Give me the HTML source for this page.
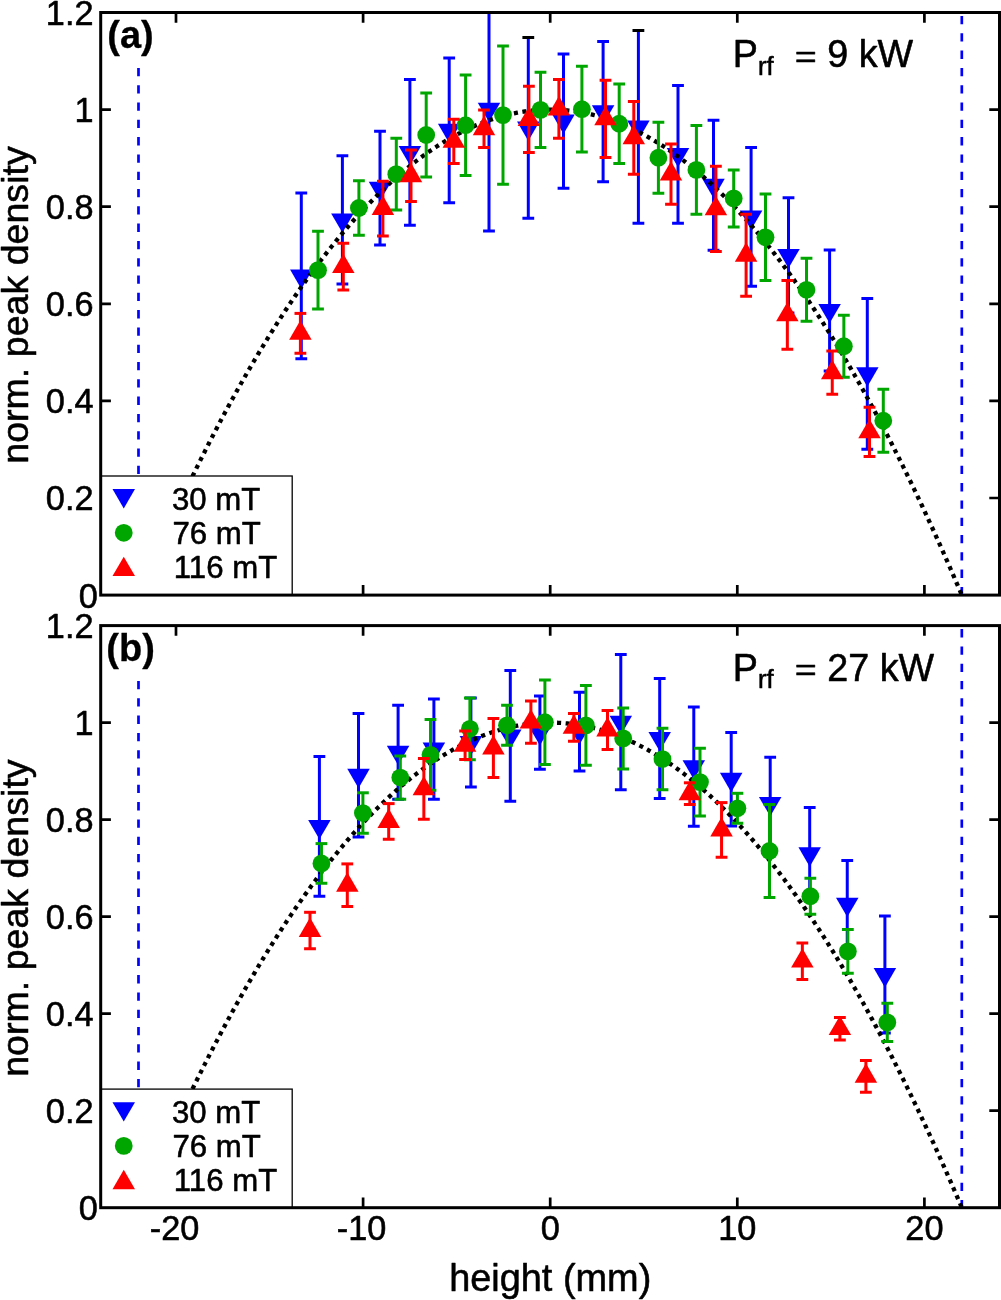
<!DOCTYPE html>
<html lang="en"><head><meta charset="utf-8"><title>Normalized peak density profiles</title>
<style>html,body{margin:0;padding:0;background:#fff}svg{display:block}</style>
</head><body>
<svg width="1001" height="1300" viewBox="0 0 1001 1300" font-family="'Liberation Sans', sans-serif" fill="#000">
<style>text{stroke:#000;stroke-width:0.55px;stroke-linejoin:round}</style>
<defs>
<clipPath id="clip0"><rect x="100.7" y="12.5" width="898.80" height="582.60"/></clipPath>
<clipPath id="clip1"><rect x="100.7" y="625.6" width="898.80" height="582.10"/></clipPath>
</defs>
<rect width="1001" height="1300" fill="#fff"/>
<g clip-path="url(#clip0)">
<path d="M138.5 -1.30V595.1" stroke="#0000ff" stroke-width="2.7" stroke-dasharray="8.3 9" fill="none"/>
<path d="M961.8 -1.30V595.1" stroke="#0000ff" stroke-width="2.7" stroke-dasharray="8.3 9" fill="none"/>
<rect x="100.7" y="12.5" width="62" height="50.5" fill="#fff"/>
<path d="M301.30 193.10V358.80M295.40 358.80H307.20" stroke="#0000ff" stroke-width="3.0" fill="none"/>
<path d="M295.40 193.10H307.20" stroke="#0000ff" stroke-width="3.0" fill="none"/>
<path d="M342.40 155.80V283.90M336.50 283.90H348.30" stroke="#0000ff" stroke-width="3.0" fill="none"/>
<path d="M336.50 155.80H348.30" stroke="#0000ff" stroke-width="3.0" fill="none"/>
<path d="M380.00 131.30V244.90M374.10 244.90H385.90" stroke="#0000ff" stroke-width="3.0" fill="none"/>
<path d="M374.10 131.30H385.90" stroke="#0000ff" stroke-width="3.0" fill="none"/>
<path d="M409.90 79.50V225.30M404.00 225.30H415.80" stroke="#0000ff" stroke-width="3.0" fill="none"/>
<path d="M404.00 79.50H415.80" stroke="#0000ff" stroke-width="3.0" fill="none"/>
<path d="M449.20 57.90V202.70M443.30 202.70H455.10" stroke="#0000ff" stroke-width="3.0" fill="none"/>
<path d="M443.30 57.90H455.10" stroke="#0000ff" stroke-width="3.0" fill="none"/>
<path d="M489.00 -12.70V230.90M483.10 230.90H494.90" stroke="#0000ff" stroke-width="3.0" fill="none"/>
<path d="M483.10 -12.70H494.90" stroke="#0000ff" stroke-width="3.0" fill="none"/>
<path d="M528.30 37.60V218.30M522.40 218.30H534.20" stroke="#0000ff" stroke-width="3.0" fill="none"/>
<path d="M522.40 37.60H534.20" stroke="#000" stroke-width="3.0" fill="none"/>
<path d="M563.50 53.90V188.25M557.60 188.25H569.40" stroke="#0000ff" stroke-width="3.0" fill="none"/>
<path d="M557.60 53.90H569.40" stroke="#0000ff" stroke-width="3.0" fill="none"/>
<path d="M603.10 41.40V181.85M597.20 181.85H609.00" stroke="#0000ff" stroke-width="3.0" fill="none"/>
<path d="M597.20 41.40H609.00" stroke="#0000ff" stroke-width="3.0" fill="none"/>
<path d="M638.40 30.40V223.30M632.50 223.30H644.30" stroke="#0000ff" stroke-width="3.0" fill="none"/>
<path d="M632.50 30.40H644.30" stroke="#000" stroke-width="3.0" fill="none"/>
<path d="M678.00 85.50V223.30M672.10 223.30H683.90" stroke="#0000ff" stroke-width="3.0" fill="none"/>
<path d="M672.10 85.50H683.90" stroke="#0000ff" stroke-width="3.0" fill="none"/>
<path d="M713.50 120.30V250.30M707.60 250.30H719.40" stroke="#0000ff" stroke-width="3.0" fill="none"/>
<path d="M707.60 120.30H719.40" stroke="#0000ff" stroke-width="3.0" fill="none"/>
<path d="M751.10 147.50V286.30M745.20 286.30H757.00" stroke="#0000ff" stroke-width="3.0" fill="none"/>
<path d="M745.20 147.50H757.00" stroke="#0000ff" stroke-width="3.0" fill="none"/>
<path d="M788.50 197.70V313.00M782.60 313.00H794.40" stroke="#0000ff" stroke-width="3.0" fill="none"/>
<path d="M782.60 197.70H794.40" stroke="#0000ff" stroke-width="3.0" fill="none"/>
<path d="M829.60 249.90V370.90M823.70 370.90H835.50" stroke="#0000ff" stroke-width="3.0" fill="none"/>
<path d="M823.70 249.90H835.50" stroke="#0000ff" stroke-width="3.0" fill="none"/>
<path d="M867.30 298.40V449.20M861.40 449.20H873.20" stroke="#0000ff" stroke-width="3.0" fill="none"/>
<path d="M861.40 298.40H873.20" stroke="#0000ff" stroke-width="3.0" fill="none"/>
<path d="M290.05 269.48H312.55L301.30 288.88Z" fill="#0000ff"/>
<path d="M331.15 213.38H353.65L342.40 232.78Z" fill="#0000ff"/>
<path d="M368.75 181.63H391.25L380.00 201.03Z" fill="#0000ff"/>
<path d="M398.65 145.93H421.15L409.90 165.33Z" fill="#0000ff"/>
<path d="M437.95 123.83H460.45L449.20 143.23Z" fill="#0000ff"/>
<path d="M477.75 102.63H500.25L489.00 122.03Z" fill="#0000ff"/>
<path d="M517.05 121.48H539.55L528.30 140.88Z" fill="#0000ff"/>
<path d="M552.25 114.61H574.75L563.50 134.00Z" fill="#0000ff"/>
<path d="M591.85 105.16H614.35L603.10 124.56Z" fill="#0000ff"/>
<path d="M627.15 120.38H649.65L638.40 139.78Z" fill="#0000ff"/>
<path d="M666.75 147.93H689.25L678.00 167.33Z" fill="#0000ff"/>
<path d="M702.25 178.83H724.75L713.50 198.23Z" fill="#0000ff"/>
<path d="M739.85 210.43H762.35L751.10 229.83Z" fill="#0000ff"/>
<path d="M777.25 248.88H799.75L788.50 268.28Z" fill="#0000ff"/>
<path d="M818.35 303.93H840.85L829.60 323.33Z" fill="#0000ff"/>
<path d="M856.05 367.33H878.55L867.30 386.73Z" fill="#0000ff"/>
<path d="M138.58 595.10L139.61 592.68L140.64 590.26L141.67 587.84L142.70 585.44L143.73 583.04L144.75 580.64L145.78 578.26L146.81 575.87L147.84 573.50L148.87 571.13L149.90 568.76L150.93 566.41L151.96 564.06L152.99 561.71L154.02 559.37L155.04 557.04L156.07 554.71L157.10 552.39L158.13 550.07L159.16 547.76L160.19 545.46L161.22 543.16L162.25 540.87L163.28 538.59L164.31 536.31L165.34 534.04L166.36 531.77L167.39 529.51L168.42 527.25L169.45 525.01L170.48 522.76L171.51 520.53L172.54 518.30L173.57 516.07L174.60 513.85L175.63 511.64L176.65 509.44L177.68 507.24L178.71 505.04L179.74 502.86L180.77 500.67L181.80 498.50L182.83 496.33L183.86 494.16L184.89 492.01L185.92 489.86L186.95 487.71L187.97 485.57L189.00 483.44L190.03 481.31L191.06 479.19L192.09 477.07L193.12 474.97L194.15 472.86L195.18 470.77L196.21 468.68L197.24 466.59L198.26 464.51L199.29 462.44L200.32 460.37L201.35 458.31L202.38 456.26L203.41 454.21L204.44 452.17L205.47 450.13L206.50 448.10L207.53 446.08L208.56 444.06L209.58 442.05L210.61 440.04L211.64 438.04L212.67 436.05L213.70 434.06L214.73 432.08L215.76 430.11L216.79 428.14L217.82 426.17L218.85 424.22L219.87 422.27L220.90 420.32L221.93 418.38L222.96 416.45L223.99 414.52L225.02 412.60L226.05 410.69L227.08 408.78L228.11 406.87L229.14 404.98L230.17 403.09L231.19 401.20L232.22 399.33L233.25 397.45L234.28 395.59L235.31 393.73L236.34 391.87L237.37 390.02L238.40 388.18L239.43 386.35L240.46 384.52L241.49 382.69L242.51 380.88L243.54 379.06L244.57 377.26L245.60 375.46L246.63 373.67L247.66 371.88L248.69 370.10L249.72 368.32L250.75 366.55L251.78 364.79L252.80 363.03L253.83 361.28L254.86 359.54L255.89 357.80L256.92 356.07L257.95 354.34L258.98 352.62L260.01 350.91L261.04 349.20L262.07 347.50L263.10 345.80L264.12 344.11L265.15 342.42L266.18 340.75L267.21 339.07L268.24 337.41L269.27 335.75L270.30 334.10L271.33 332.45L272.36 330.81L273.39 329.17L274.41 327.54L275.44 325.92L276.47 324.30L277.50 322.69L278.53 321.08L279.56 319.48L280.59 317.89L281.62 316.30L282.65 314.72L283.68 313.15L284.71 311.58L285.73 310.02L286.76 308.46L287.79 306.91L288.82 305.37L289.85 303.83L290.88 302.29L291.91 300.77L292.94 299.25L293.97 297.73L295.00 296.23L296.02 294.72L297.05 293.23L298.08 291.74L299.11 290.25L300.14 288.78L301.17 287.31L302.20 285.84L303.23 284.38L304.26 282.93L305.29 281.48L306.32 280.04L307.34 278.60L308.37 277.17L309.40 275.75L310.43 274.33L311.46 272.92L312.49 271.52L313.52 270.12L314.55 268.73L315.58 267.34L316.61 265.96L317.63 264.58L318.66 263.22L319.69 261.85L320.72 260.50L321.75 259.15L322.78 257.80L323.81 256.46L324.84 255.13L325.87 253.81L326.90 252.49L327.93 251.17L328.95 249.86L329.98 248.56L331.01 247.27L332.04 245.98L333.07 244.69L334.10 243.42L335.13 242.14L336.16 240.88L337.19 239.62L338.22 238.37L339.24 237.12L340.27 235.88L341.30 234.64L342.33 233.41L343.36 232.19L344.39 230.97L345.42 229.76L346.45 228.56L347.48 227.36L348.51 226.17L349.54 224.98L350.56 223.80L351.59 222.63L352.62 221.46L353.65 220.30L354.68 219.14L355.71 217.99L356.74 216.85L357.77 215.71L358.80 214.58L359.83 213.45L360.85 212.33L361.88 211.22L362.91 210.11L363.94 209.01L364.97 207.91L366.00 206.82L367.03 205.74L368.06 204.66L369.09 203.59L370.12 202.53L371.15 201.47L372.17 200.42L373.20 199.37L374.23 198.33L375.26 197.29L376.29 196.26L377.32 195.24L378.35 194.23L379.38 193.22L380.41 192.21L381.44 191.21L382.46 190.22L383.49 189.23L384.52 188.25L385.55 187.28L386.58 186.31L387.61 185.35L388.64 184.39L389.67 183.44L390.70 182.50L391.73 181.56L392.76 180.63L393.78 179.71L394.81 178.79L395.84 177.87L396.87 176.97L397.90 176.06L398.93 175.17L399.96 174.28L400.99 173.40L402.02 172.52L403.05 171.65L404.07 170.79L405.10 169.93L406.13 169.07L407.16 168.23L408.19 167.39L409.22 166.55L410.25 165.72L411.28 164.90L412.31 164.09L413.34 163.28L414.37 162.47L415.39 161.67L416.42 160.88L417.45 160.10L418.48 159.32L419.51 158.54L420.54 157.77L421.57 157.01L422.60 156.26L423.63 155.51L424.66 154.76L425.68 154.03L426.71 153.29L427.74 152.57L428.77 151.85L429.80 151.14L430.83 150.43L431.86 149.73L432.89 149.03L433.92 148.35L434.95 147.66L435.98 146.99L437.00 146.32L438.03 145.65L439.06 144.99L440.09 144.34L441.12 143.69L442.15 143.05L443.18 142.42L444.21 141.79L445.24 141.17L446.27 140.55L447.30 139.94L448.32 139.34L449.35 138.74L450.38 138.15L451.41 137.56L452.44 136.99L453.47 136.41L454.50 135.84L455.53 135.28L456.56 134.73L457.59 134.18L458.61 133.64L459.64 133.10L460.67 132.57L461.70 132.04L462.73 131.52L463.76 131.01L464.79 130.50L465.82 130.00L466.85 129.51L467.88 129.02L468.91 128.54L469.93 128.06L470.96 127.59L471.99 127.13L473.02 126.67L474.05 126.22L475.08 125.77L476.11 125.33L477.14 124.90L478.17 124.47L479.20 124.05L480.22 123.63L481.25 123.22L482.28 122.82L483.31 122.42L484.34 122.03L485.37 121.64L486.40 121.26L487.43 120.89L488.46 120.52L489.49 120.16L490.52 119.81L491.54 119.46L492.57 119.12L493.60 118.78L494.63 118.45L495.66 118.12L496.69 117.80L497.72 117.49L498.75 117.19L499.78 116.89L500.81 116.59L501.83 116.30L502.86 116.02L503.89 115.74L504.92 115.47L505.95 115.21L506.98 114.95L508.01 114.70L509.04 114.45L510.07 114.22L511.10 113.98L512.13 113.75L513.15 113.53L514.18 113.32L515.21 113.11L516.24 112.90L517.27 112.71L518.30 112.52L519.33 112.33L520.36 112.15L521.39 111.98L522.42 111.81L523.44 111.65L524.47 111.50L525.50 111.35L526.53 111.21L527.56 111.07L528.59 110.94L529.62 110.81L530.65 110.70L531.68 110.58L532.71 110.48L533.74 110.38L534.76 110.28L535.79 110.19L536.82 110.11L537.85 110.04L538.88 109.97L539.91 109.90L540.94 109.85L541.97 109.79L543.00 109.75L544.03 109.71L545.05 109.68L546.08 109.65L547.11 109.63L548.14 109.61L549.17 109.60L550.20 109.60L551.23 109.60L552.26 109.61L553.29 109.63L554.32 109.65L555.35 109.68L556.37 109.71L557.40 109.75L558.43 109.79L559.46 109.85L560.49 109.90L561.52 109.97L562.55 110.04L563.58 110.11L564.61 110.19L565.64 110.28L566.66 110.38L567.69 110.48L568.72 110.58L569.75 110.70L570.78 110.81L571.81 110.94L572.84 111.07L573.87 111.21L574.90 111.35L575.93 111.50L576.96 111.65L577.98 111.81L579.01 111.98L580.04 112.15L581.07 112.33L582.10 112.52L583.13 112.71L584.16 112.90L585.19 113.11L586.22 113.32L587.25 113.53L588.27 113.75L589.30 113.98L590.33 114.22L591.36 114.45L592.39 114.70L593.42 114.95L594.45 115.21L595.48 115.47L596.51 115.74L597.54 116.02L598.57 116.30L599.59 116.59L600.62 116.89L601.65 117.19L602.68 117.49L603.71 117.80L604.74 118.12L605.77 118.45L606.80 118.78L607.83 119.12L608.86 119.46L609.88 119.81L610.91 120.16L611.94 120.52L612.97 120.89L614.00 121.26L615.03 121.64L616.06 122.03L617.09 122.42L618.12 122.82L619.15 123.22L620.18 123.63L621.20 124.05L622.23 124.47L623.26 124.90L624.29 125.33L625.32 125.77L626.35 126.22L627.38 126.67L628.41 127.13L629.44 127.59L630.47 128.06L631.49 128.54L632.52 129.02L633.55 129.51L634.58 130.00L635.61 130.50L636.64 131.01L637.67 131.52L638.70 132.04L639.73 132.57L640.76 133.10L641.79 133.64L642.81 134.18L643.84 134.73L644.87 135.28L645.90 135.84L646.93 136.41L647.96 136.99L648.99 137.56L650.02 138.15L651.05 138.74L652.08 139.34L653.11 139.94L654.13 140.55L655.16 141.17L656.19 141.79L657.22 142.42L658.25 143.05L659.28 143.69L660.31 144.34L661.34 144.99L662.37 145.65L663.40 146.32L664.42 146.99L665.45 147.66L666.48 148.35L667.51 149.03L668.54 149.73L669.57 150.43L670.60 151.14L671.63 151.85L672.66 152.57L673.69 153.30L674.72 154.03L675.74 154.76L676.77 155.51L677.80 156.26L678.83 157.01L679.86 157.77L680.89 158.54L681.92 159.32L682.95 160.10L683.98 160.88L685.01 161.67L686.03 162.47L687.06 163.28L688.09 164.09L689.12 164.90L690.15 165.72L691.18 166.55L692.21 167.39L693.24 168.23L694.27 169.07L695.30 169.93L696.33 170.79L697.35 171.65L698.38 172.52L699.41 173.40L700.44 174.28L701.47 175.17L702.50 176.06L703.53 176.97L704.56 177.87L705.59 178.79L706.62 179.71L707.64 180.63L708.67 181.56L709.70 182.50L710.73 183.44L711.76 184.39L712.79 185.35L713.82 186.31L714.85 187.28L715.88 188.25L716.91 189.23L717.94 190.22L718.96 191.21L719.99 192.21L721.02 193.22L722.05 194.23L723.08 195.24L724.11 196.26L725.14 197.29L726.17 198.33L727.20 199.37L728.23 200.42L729.25 201.47L730.28 202.53L731.31 203.59L732.34 204.66L733.37 205.74L734.40 206.82L735.43 207.91L736.46 209.01L737.49 210.11L738.52 211.22L739.55 212.33L740.57 213.45L741.60 214.58L742.63 215.71L743.66 216.85L744.69 217.99L745.72 219.14L746.75 220.30L747.78 221.46L748.81 222.63L749.84 223.80L750.86 224.98L751.89 226.17L752.92 227.36L753.95 228.56L754.98 229.76L756.01 230.97L757.04 232.19L758.07 233.41L759.10 234.64L760.13 235.88L761.16 237.12L762.18 238.37L763.21 239.62L764.24 240.88L765.27 242.14L766.30 243.42L767.33 244.69L768.36 245.98L769.39 247.27L770.42 248.56L771.45 249.86L772.47 251.17L773.50 252.49L774.53 253.81L775.56 255.13L776.59 256.46L777.62 257.80L778.65 259.15L779.68 260.50L780.71 261.85L781.74 263.22L782.77 264.58L783.79 265.96L784.82 267.34L785.85 268.73L786.88 270.12L787.91 271.52L788.94 272.92L789.97 274.33L791.00 275.75L792.03 277.17L793.06 278.60L794.08 280.04L795.11 281.48L796.14 282.93L797.17 284.38L798.20 285.84L799.23 287.31L800.26 288.78L801.29 290.25L802.32 291.74L803.35 293.23L804.38 294.72L805.40 296.23L806.43 297.73L807.46 299.25L808.49 300.77L809.52 302.29L810.55 303.83L811.58 305.37L812.61 306.91L813.64 308.46L814.67 310.02L815.69 311.58L816.72 313.15L817.75 314.72L818.78 316.30L819.81 317.89L820.84 319.48L821.87 321.08L822.90 322.69L823.93 324.30L824.96 325.92L825.99 327.54L827.01 329.17L828.04 330.81L829.07 332.45L830.10 334.10L831.13 335.75L832.16 337.41L833.19 339.07L834.22 340.75L835.25 342.42L836.28 344.11L837.30 345.80L838.33 347.50L839.36 349.20L840.39 350.91L841.42 352.62L842.45 354.34L843.48 356.07L844.51 357.80L845.54 359.54L846.57 361.28L847.60 363.03L848.62 364.79L849.65 366.55L850.68 368.32L851.71 370.10L852.74 371.88L853.77 373.67L854.80 375.46L855.83 377.26L856.86 379.06L857.89 380.88L858.92 382.69L859.94 384.52L860.97 386.35L862.00 388.18L863.03 390.02L864.06 391.87L865.09 393.73L866.12 395.59L867.15 397.45L868.18 399.33L869.21 401.20L870.23 403.09L871.26 404.98L872.29 406.87L873.32 408.78L874.35 410.69L875.38 412.60L876.41 414.52L877.44 416.45L878.47 418.38L879.50 420.32L880.53 422.27L881.55 424.22L882.58 426.17L883.61 428.14L884.64 430.11L885.67 432.08L886.70 434.06L887.73 436.05L888.76 438.04L889.79 440.04L890.82 442.05L891.84 444.06L892.87 446.08L893.90 448.10L894.93 450.13L895.96 452.17L896.99 454.21L898.02 456.26L899.05 458.31L900.08 460.37L901.11 462.44L902.14 464.51L903.16 466.59L904.19 468.68L905.22 470.77L906.25 472.86L907.28 474.97L908.31 477.07L909.34 479.19L910.37 481.31L911.40 483.44L912.43 485.57L913.45 487.71L914.48 489.86L915.51 492.01L916.54 494.16L917.57 496.33L918.60 498.50L919.63 500.67L920.66 502.85L921.69 505.04L922.72 507.24L923.75 509.44L924.77 511.64L925.80 513.85L926.83 516.07L927.86 518.30L928.89 520.53L929.92 522.76L930.95 525.01L931.98 527.25L933.01 529.51L934.04 531.77L935.06 534.04L936.09 536.31L937.12 538.59L938.15 540.87L939.18 543.16L940.21 545.46L941.24 547.76L942.27 550.07L943.30 552.39L944.33 554.71L945.36 557.04L946.38 559.37L947.41 561.71L948.44 564.06L949.47 566.41L950.50 568.76L951.53 571.13L952.56 573.50L953.59 575.87L954.62 578.26L955.65 580.64L956.67 583.04L957.70 585.44L958.73 587.84L959.76 590.26L960.79 592.68L961.82 595.10" stroke="#000" stroke-width="4.3" stroke-dasharray="4.1 4.51" stroke-dashoffset="7.34" fill="none"/>
<path d="M318.00 231.30V309.00M312.10 309.00H323.90" stroke="#00a600" stroke-width="3.0" fill="none"/>
<path d="M312.10 231.30H323.90" stroke="#00a600" stroke-width="3.0" fill="none"/>
<path d="M358.90 180.70V235.30M353.00 235.30H364.80" stroke="#00a600" stroke-width="3.0" fill="none"/>
<path d="M353.00 180.70H364.80" stroke="#00a600" stroke-width="3.0" fill="none"/>
<path d="M396.30 138.30V210.00M390.40 210.00H402.20" stroke="#00a600" stroke-width="3.0" fill="none"/>
<path d="M390.40 138.30H402.20" stroke="#00a600" stroke-width="3.0" fill="none"/>
<path d="M426.20 92.90V177.10M420.30 177.10H432.10" stroke="#00a600" stroke-width="3.0" fill="none"/>
<path d="M420.30 92.90H432.10" stroke="#00a600" stroke-width="3.0" fill="none"/>
<path d="M465.60 74.90V175.50M459.70 175.50H471.50" stroke="#00a600" stroke-width="3.0" fill="none"/>
<path d="M459.70 74.90H471.50" stroke="#00a600" stroke-width="3.0" fill="none"/>
<path d="M503.00 46.00V184.25M497.10 184.25H508.90" stroke="#00a600" stroke-width="3.0" fill="none"/>
<path d="M497.10 46.00H508.90" stroke="#00a600" stroke-width="3.0" fill="none"/>
<path d="M540.50 72.30V147.45M534.60 147.45H546.40" stroke="#00a600" stroke-width="3.0" fill="none"/>
<path d="M534.60 72.30H546.40" stroke="#00a600" stroke-width="3.0" fill="none"/>
<path d="M581.90 66.30V152.10M576.00 152.10H587.80" stroke="#00a600" stroke-width="3.0" fill="none"/>
<path d="M576.00 66.30H587.80" stroke="#00a600" stroke-width="3.0" fill="none"/>
<path d="M619.20 83.90V163.60M613.30 163.60H625.10" stroke="#00a600" stroke-width="3.0" fill="none"/>
<path d="M613.30 83.90H625.10" stroke="#00a600" stroke-width="3.0" fill="none"/>
<path d="M658.40 122.20V193.30M652.50 193.30H664.30" stroke="#00a600" stroke-width="3.0" fill="none"/>
<path d="M652.50 122.20H664.30" stroke="#00a600" stroke-width="3.0" fill="none"/>
<path d="M696.40 125.50V214.30M690.50 214.30H702.30" stroke="#00a600" stroke-width="3.0" fill="none"/>
<path d="M690.50 125.50H702.30" stroke="#00a600" stroke-width="3.0" fill="none"/>
<path d="M733.70 169.90V226.90M727.80 226.90H739.60" stroke="#00a600" stroke-width="3.0" fill="none"/>
<path d="M727.80 169.90H739.60" stroke="#00a600" stroke-width="3.0" fill="none"/>
<path d="M765.50 194.10V280.50M759.60 280.50H771.40" stroke="#00a600" stroke-width="3.0" fill="none"/>
<path d="M759.60 194.10H771.40" stroke="#00a600" stroke-width="3.0" fill="none"/>
<path d="M806.50 258.30V321.30M800.60 321.30H812.40" stroke="#00a600" stroke-width="3.0" fill="none"/>
<path d="M800.60 258.30H812.40" stroke="#00a600" stroke-width="3.0" fill="none"/>
<path d="M843.85 315.20V377.30M837.95 377.30H849.75" stroke="#00a600" stroke-width="3.0" fill="none"/>
<path d="M837.95 315.20H849.75" stroke="#00a600" stroke-width="3.0" fill="none"/>
<path d="M883.30 389.30V452.20M877.40 452.20H889.20" stroke="#00a600" stroke-width="3.0" fill="none"/>
<path d="M877.40 389.30H889.20" stroke="#00a600" stroke-width="3.0" fill="none"/>
<circle cx="318.00" cy="270.15" r="8.9" fill="#00a600"/>
<circle cx="358.90" cy="208.00" r="8.9" fill="#00a600"/>
<circle cx="396.30" cy="174.15" r="8.9" fill="#00a600"/>
<circle cx="426.20" cy="135.00" r="8.9" fill="#00a600"/>
<circle cx="465.60" cy="125.20" r="8.9" fill="#00a600"/>
<circle cx="503.00" cy="115.12" r="8.9" fill="#00a600"/>
<circle cx="540.50" cy="109.88" r="8.9" fill="#00a600"/>
<circle cx="581.90" cy="109.20" r="8.9" fill="#00a600"/>
<circle cx="619.20" cy="123.75" r="8.9" fill="#00a600"/>
<circle cx="658.40" cy="157.75" r="8.9" fill="#00a600"/>
<circle cx="696.40" cy="169.90" r="8.9" fill="#00a600"/>
<circle cx="733.70" cy="198.40" r="8.9" fill="#00a600"/>
<circle cx="765.50" cy="237.30" r="8.9" fill="#00a600"/>
<circle cx="806.50" cy="289.80" r="8.9" fill="#00a600"/>
<circle cx="843.85" cy="346.25" r="8.9" fill="#00a600"/>
<circle cx="883.30" cy="420.75" r="8.9" fill="#00a600"/>
<path d="M300.40 313.40V353.20M294.50 353.20H306.30" stroke="#ff0000" stroke-width="3.0" fill="none"/>
<path d="M294.50 313.40H306.30" stroke="#ff0000" stroke-width="3.0" fill="none"/>
<path d="M343.30 243.30V289.90M337.40 289.90H349.20" stroke="#ff0000" stroke-width="3.0" fill="none"/>
<path d="M337.40 243.30H349.20" stroke="#ff0000" stroke-width="3.0" fill="none"/>
<path d="M382.90 181.20V235.90M377.00 235.90H388.80" stroke="#ff0000" stroke-width="3.0" fill="none"/>
<path d="M377.00 181.20H388.80" stroke="#ff0000" stroke-width="3.0" fill="none"/>
<path d="M411.00 149.90V201.50M405.10 201.50H416.90" stroke="#ff0000" stroke-width="3.0" fill="none"/>
<path d="M405.10 149.90H416.90" stroke="#ff0000" stroke-width="3.0" fill="none"/>
<path d="M453.80 119.30V163.40M447.90 163.40H459.70" stroke="#ff0000" stroke-width="3.0" fill="none"/>
<path d="M447.90 119.30H459.70" stroke="#ff0000" stroke-width="3.0" fill="none"/>
<path d="M484.00 109.90V147.45M478.10 147.45H489.90" stroke="#ff0000" stroke-width="3.0" fill="none"/>
<path d="M478.10 109.90H489.90" stroke="#ff0000" stroke-width="3.0" fill="none"/>
<path d="M528.90 86.30V152.60M523.00 152.60H534.80" stroke="#ff0000" stroke-width="3.0" fill="none"/>
<path d="M523.00 86.30H534.80" stroke="#ff0000" stroke-width="3.0" fill="none"/>
<path d="M558.90 79.50V138.35M553.00 138.35H564.80" stroke="#ff0000" stroke-width="3.0" fill="none"/>
<path d="M553.00 79.50H564.80" stroke="#ff0000" stroke-width="3.0" fill="none"/>
<path d="M605.50 80.30V157.40M599.60 157.40H611.40" stroke="#ff0000" stroke-width="3.0" fill="none"/>
<path d="M599.60 80.30H611.40" stroke="#ff0000" stroke-width="3.0" fill="none"/>
<path d="M633.80 101.50V174.30M627.90 174.30H639.70" stroke="#ff0000" stroke-width="3.0" fill="none"/>
<path d="M627.90 101.50H639.70" stroke="#ff0000" stroke-width="3.0" fill="none"/>
<path d="M671.00 143.90V204.30M665.10 204.30H676.90" stroke="#ff0000" stroke-width="3.0" fill="none"/>
<path d="M665.10 143.90H676.90" stroke="#ff0000" stroke-width="3.0" fill="none"/>
<path d="M715.90 166.30V251.50M710.00 251.50H721.80" stroke="#ff0000" stroke-width="3.0" fill="none"/>
<path d="M710.00 166.30H721.80" stroke="#ff0000" stroke-width="3.0" fill="none"/>
<path d="M746.10 214.30V296.30M740.20 296.30H752.00" stroke="#ff0000" stroke-width="3.0" fill="none"/>
<path d="M740.20 214.30H752.00" stroke="#ff0000" stroke-width="3.0" fill="none"/>
<path d="M787.35 280.50V349.25M781.45 349.25H793.25" stroke="#ff0000" stroke-width="3.0" fill="none"/>
<path d="M781.45 280.50H793.25" stroke="#ff0000" stroke-width="3.0" fill="none"/>
<path d="M832.25 351.05V394.30M826.35 394.30H838.15" stroke="#ff0000" stroke-width="3.0" fill="none"/>
<path d="M826.35 351.05H838.15" stroke="#ff0000" stroke-width="3.0" fill="none"/>
<path d="M869.50 407.30V456.40M863.60 456.40H875.40" stroke="#ff0000" stroke-width="3.0" fill="none"/>
<path d="M863.60 407.30H875.40" stroke="#ff0000" stroke-width="3.0" fill="none"/>
<path d="M289.15 339.77H311.65L300.40 320.37Z" fill="#ff0000"/>
<path d="M332.05 273.07H354.55L343.30 253.67Z" fill="#ff0000"/>
<path d="M371.65 215.02H394.15L382.90 195.62Z" fill="#ff0000"/>
<path d="M399.75 182.17H422.25L411.00 162.77Z" fill="#ff0000"/>
<path d="M442.55 147.82H465.05L453.80 128.42Z" fill="#ff0000"/>
<path d="M472.75 135.15H495.25L484.00 115.75Z" fill="#ff0000"/>
<path d="M517.65 125.92H540.15L528.90 106.52Z" fill="#ff0000"/>
<path d="M547.65 115.39H570.15L558.90 96.00Z" fill="#ff0000"/>
<path d="M594.25 125.32H616.75L605.50 105.92Z" fill="#ff0000"/>
<path d="M622.55 144.37H645.05L633.80 124.97Z" fill="#ff0000"/>
<path d="M659.75 180.57H682.25L671.00 161.17Z" fill="#ff0000"/>
<path d="M704.65 215.37H727.15L715.90 195.97Z" fill="#ff0000"/>
<path d="M734.85 261.77H757.35L746.10 242.37Z" fill="#ff0000"/>
<path d="M776.10 321.35H798.60L787.35 301.94Z" fill="#ff0000"/>
<path d="M821.00 379.15H843.50L832.25 359.75Z" fill="#ff0000"/>
<path d="M858.25 438.32H880.75L869.50 418.92Z" fill="#ff0000"/>
</g>
<path d="M176.00 12.5v10.2M176.00 595.1v-10.2M363.10 12.5v10.2M363.10 595.1v-10.2M550.20 12.5v10.2M550.20 595.1v-10.2M737.30 12.5v10.2M737.30 595.1v-10.2M924.40 12.5v10.2M924.40 595.1v-10.2M100.7 498.00h10.2M999.5 498.00h-10.2M100.7 400.90h10.2M999.5 400.90h-10.2M100.7 303.80h10.2M999.5 303.80h-10.2M100.7 206.70h10.2M999.5 206.70h-10.2M100.7 109.60h10.2M999.5 109.60h-10.2" stroke="#000" stroke-width="2.7" fill="none"/>
<rect x="100.7" y="476.0" width="191.50" height="119.10" fill="#fff" stroke="#000" stroke-width="1.3"/>
<path d="M112.50 489.03H135.00L123.75 508.43Z" fill="#0000ff"/>
<circle cx="123.75" cy="532.80" r="8.9" fill="#00a600"/>
<path d="M112.50 576.07H135.00L123.75 556.67Z" fill="#ff0000"/>
<text transform="translate(171.90 509.80) scale(1 1.035)" font-size="31.2">30 mT</text>
<text transform="translate(172.50 543.60) scale(1 1.035)" font-size="31.2">76 mT</text>
<text transform="translate(173.80 577.50) scale(1 1.035)" font-size="31.2">116 mT</text>
<rect x="100.7" y="12.5" width="898.80" height="582.60" fill="none" stroke="#000" stroke-width="3.0"/>
<text transform="translate(97.90 607.50) scale(1 1.045)" font-size="34.3" text-anchor="end">0</text>
<text transform="translate(93.50 510.40) scale(1 1.045)" font-size="34.3" text-anchor="end">0.2</text>
<text transform="translate(93.50 413.30) scale(1 1.045)" font-size="34.3" text-anchor="end">0.4</text>
<text transform="translate(93.50 316.20) scale(1 1.045)" font-size="34.3" text-anchor="end">0.6</text>
<text transform="translate(93.50 219.10) scale(1 1.045)" font-size="34.3" text-anchor="end">0.8</text>
<text transform="translate(93.50 122.00) scale(1 1.045)" font-size="34.3" text-anchor="end">1</text>
<text transform="translate(93.50 24.90) scale(1 1.045)" font-size="34.3" text-anchor="end">1.2</text>
<text transform="translate(107.30 48.00)" font-size="38" font-weight="bold" style="stroke-width:0.3px">(a)</text>
<text transform="translate(732.80 67.40) scale(1 1.04)" font-size="37.7">P</text>
<text transform="translate(758.00 74.70)" font-size="25.5">rf</text>
<text transform="translate(794.80 67.00) scale(1 0.8)" font-size="37.7">=</text>
<text transform="translate(827.30 67.40) scale(1 1.04)" font-size="37.7">9 kW</text>
<text transform="translate(28.40 305.00) rotate(-90)" font-size="37.6" text-anchor="middle">norm. peak density</text>
<g clip-path="url(#clip1)">
<path d="M138.5 611.80V1207.7" stroke="#0000ff" stroke-width="2.7" stroke-dasharray="8.3 9" fill="none"/>
<path d="M961.8 611.80V1207.7" stroke="#0000ff" stroke-width="2.7" stroke-dasharray="8.3 9" fill="none"/>
<rect x="100.7" y="625.6" width="62" height="50.5" fill="#fff"/>
<path d="M319.40 756.50V896.30M313.50 896.30H325.30" stroke="#0000ff" stroke-width="3.0" fill="none"/>
<path d="M313.50 756.50H325.30" stroke="#0000ff" stroke-width="3.0" fill="none"/>
<path d="M358.50 713.50V837.10M352.60 837.10H364.40" stroke="#0000ff" stroke-width="3.0" fill="none"/>
<path d="M352.60 713.50H364.40" stroke="#0000ff" stroke-width="3.0" fill="none"/>
<path d="M398.10 705.30V799.20M392.20 799.20H404.00" stroke="#0000ff" stroke-width="3.0" fill="none"/>
<path d="M392.20 705.30H404.00" stroke="#0000ff" stroke-width="3.0" fill="none"/>
<path d="M433.90 698.90V799.20M428.00 799.20H439.80" stroke="#0000ff" stroke-width="3.0" fill="none"/>
<path d="M428.00 698.90H439.80" stroke="#0000ff" stroke-width="3.0" fill="none"/>
<path d="M470.90 698.00V787.00M465.00 787.00H476.80" stroke="#0000ff" stroke-width="3.0" fill="none"/>
<path d="M465.00 698.00H476.80" stroke="#0000ff" stroke-width="3.0" fill="none"/>
<path d="M510.30 670.60V801.20M504.40 801.20H516.20" stroke="#0000ff" stroke-width="3.0" fill="none"/>
<path d="M504.40 670.60H516.20" stroke="#0000ff" stroke-width="3.0" fill="none"/>
<path d="M539.90 695.90V769.30M534.00 769.30H545.80" stroke="#0000ff" stroke-width="3.0" fill="none"/>
<path d="M534.00 695.90H545.80" stroke="#0000ff" stroke-width="3.0" fill="none"/>
<path d="M579.50 692.30V770.90M573.60 770.90H585.40" stroke="#0000ff" stroke-width="3.0" fill="none"/>
<path d="M573.60 692.30H585.40" stroke="#0000ff" stroke-width="3.0" fill="none"/>
<path d="M620.80 654.40V789.80M614.90 789.80H626.70" stroke="#0000ff" stroke-width="3.0" fill="none"/>
<path d="M614.90 654.40H626.70" stroke="#0000ff" stroke-width="3.0" fill="none"/>
<path d="M659.70 678.40V798.40M653.80 798.40H665.60" stroke="#0000ff" stroke-width="3.0" fill="none"/>
<path d="M653.80 678.40H665.60" stroke="#0000ff" stroke-width="3.0" fill="none"/>
<path d="M693.80 706.90V826.30M687.90 826.30H699.70" stroke="#0000ff" stroke-width="3.0" fill="none"/>
<path d="M687.90 706.90H699.70" stroke="#0000ff" stroke-width="3.0" fill="none"/>
<path d="M731.20 732.50V826.10M725.30 826.10H737.10" stroke="#0000ff" stroke-width="3.0" fill="none"/>
<path d="M725.30 732.50H737.10" stroke="#0000ff" stroke-width="3.0" fill="none"/>
<path d="M770.20 757.30V849.50M764.30 849.50H776.10" stroke="#0000ff" stroke-width="3.0" fill="none"/>
<path d="M764.30 757.30H776.10" stroke="#0000ff" stroke-width="3.0" fill="none"/>
<path d="M809.70 807.40V900.00M803.80 900.00H815.60" stroke="#0000ff" stroke-width="3.0" fill="none"/>
<path d="M803.80 807.40H815.60" stroke="#0000ff" stroke-width="3.0" fill="none"/>
<path d="M847.25 860.50V947.70M841.35 947.70H853.15" stroke="#0000ff" stroke-width="3.0" fill="none"/>
<path d="M841.35 860.50H853.15" stroke="#0000ff" stroke-width="3.0" fill="none"/>
<path d="M884.90 915.90V1033.00M879.00 1033.00H890.80" stroke="#0000ff" stroke-width="3.0" fill="none"/>
<path d="M879.00 915.90H890.80" stroke="#0000ff" stroke-width="3.0" fill="none"/>
<path d="M308.15 819.93H330.65L319.40 839.33Z" fill="#0000ff"/>
<path d="M347.25 768.83H369.75L358.50 788.23Z" fill="#0000ff"/>
<path d="M386.85 745.78H409.35L398.10 765.18Z" fill="#0000ff"/>
<path d="M422.65 742.58H445.15L433.90 761.98Z" fill="#0000ff"/>
<path d="M459.65 736.03H482.15L470.90 755.43Z" fill="#0000ff"/>
<path d="M499.05 729.43H521.55L510.30 748.83Z" fill="#0000ff"/>
<path d="M528.65 726.13H551.15L539.90 745.53Z" fill="#0000ff"/>
<path d="M568.25 725.13H590.75L579.50 744.53Z" fill="#0000ff"/>
<path d="M609.55 715.63H632.05L620.80 735.03Z" fill="#0000ff"/>
<path d="M648.45 731.93H670.95L659.70 751.33Z" fill="#0000ff"/>
<path d="M682.55 760.13H705.05L693.80 779.53Z" fill="#0000ff"/>
<path d="M719.95 772.83H742.45L731.20 792.23Z" fill="#0000ff"/>
<path d="M758.95 796.93H781.45L770.20 816.33Z" fill="#0000ff"/>
<path d="M798.45 847.23H820.95L809.70 866.63Z" fill="#0000ff"/>
<path d="M836.00 897.63H858.50L847.25 917.03Z" fill="#0000ff"/>
<path d="M873.65 967.98H896.15L884.90 987.38Z" fill="#0000ff"/>
<path d="M138.58 1207.70L139.61 1205.28L140.64 1202.86L141.67 1200.45L142.70 1198.05L143.73 1195.65L144.75 1193.26L145.78 1190.87L146.81 1188.49L147.84 1186.12L148.87 1183.75L149.90 1181.39L150.93 1179.03L151.96 1176.68L152.99 1174.34L154.02 1172.00L155.04 1169.67L156.07 1167.34L157.10 1165.02L158.13 1162.71L159.16 1160.40L160.19 1158.10L161.22 1155.81L162.25 1153.52L163.28 1151.24L164.31 1148.96L165.34 1146.69L166.36 1144.42L167.39 1142.17L168.42 1139.91L169.45 1137.67L170.48 1135.43L171.51 1133.19L172.54 1130.96L173.57 1128.74L174.60 1126.52L175.63 1124.31L176.65 1122.11L177.68 1119.91L178.71 1117.72L179.74 1115.53L180.77 1113.35L181.80 1111.18L182.83 1109.01L183.86 1106.85L184.89 1104.70L185.92 1102.55L186.95 1100.40L187.97 1098.27L189.00 1096.13L190.03 1094.01L191.06 1091.89L192.09 1089.78L193.12 1087.67L194.15 1085.57L195.18 1083.47L196.21 1081.38L197.24 1079.30L198.26 1077.22L199.29 1075.15L200.32 1073.09L201.35 1071.03L202.38 1068.98L203.41 1066.93L204.44 1064.89L205.47 1062.86L206.50 1060.83L207.53 1058.81L208.56 1056.79L209.58 1054.78L210.61 1052.78L211.64 1050.78L212.67 1048.79L213.70 1046.80L214.73 1044.82L215.76 1042.85L216.79 1040.88L217.82 1038.92L218.85 1036.96L219.87 1035.01L220.90 1033.07L221.93 1031.13L222.96 1029.20L223.99 1027.28L225.02 1025.36L226.05 1023.44L227.08 1021.54L228.11 1019.64L229.14 1017.74L230.17 1015.85L231.19 1013.97L232.22 1012.09L233.25 1010.22L234.28 1008.36L235.31 1006.50L236.34 1004.65L237.37 1002.80L238.40 1000.96L239.43 999.13L240.46 997.30L241.49 995.48L242.51 993.66L243.54 991.85L244.57 990.05L245.60 988.25L246.63 986.46L247.66 984.67L248.69 982.89L249.72 981.12L250.75 979.35L251.78 977.59L252.80 975.83L253.83 974.08L254.86 972.34L255.89 970.60L256.92 968.87L257.95 967.15L258.98 965.43L260.01 963.72L261.04 962.01L262.07 960.31L263.10 958.61L264.12 956.92L265.15 955.24L266.18 953.56L267.21 951.89L268.24 950.23L269.27 948.57L270.30 946.92L271.33 945.27L272.36 943.63L273.39 942.00L274.41 940.37L275.44 938.75L276.47 937.13L277.50 935.52L278.53 933.92L279.56 932.32L280.59 930.73L281.62 929.14L282.65 927.56L283.68 925.99L284.71 924.42L285.73 922.86L286.76 921.31L287.79 919.76L288.82 918.21L289.85 916.68L290.88 915.15L291.91 913.62L292.94 912.10L293.97 910.59L295.00 909.08L296.02 907.58L297.05 906.09L298.08 904.60L299.11 903.12L300.14 901.64L301.17 900.17L302.20 898.70L303.23 897.25L304.26 895.79L305.29 894.35L306.32 892.91L307.34 891.47L308.37 890.05L309.40 888.62L310.43 887.21L311.46 885.80L312.49 884.39L313.52 883.00L314.55 881.61L315.58 880.22L316.61 878.84L317.63 877.47L318.66 876.10L319.69 874.74L320.72 873.38L321.75 872.03L322.78 870.69L323.81 869.35L324.84 868.02L325.87 866.70L326.90 865.38L327.93 864.07L328.95 862.76L329.98 861.46L331.01 860.17L332.04 858.88L333.07 857.59L334.10 856.32L335.13 855.05L336.16 853.78L337.19 852.53L338.22 851.27L339.24 850.03L340.27 848.79L341.30 847.55L342.33 846.33L343.36 845.10L344.39 843.89L345.42 842.68L346.45 841.47L347.48 840.28L348.51 839.09L349.54 837.90L350.56 836.72L351.59 835.55L352.62 834.38L353.65 833.22L354.68 832.06L355.71 830.91L356.74 829.77L357.77 828.63L358.80 827.50L359.83 826.38L360.85 825.26L361.88 824.15L362.91 823.04L363.94 821.94L364.97 820.85L366.00 819.76L367.03 818.68L368.06 817.60L369.09 816.53L370.12 815.46L371.15 814.41L372.17 813.35L373.20 812.31L374.23 811.27L375.26 810.23L376.29 809.21L377.32 808.19L378.35 807.17L379.38 806.16L380.41 805.16L381.44 804.16L382.46 803.17L383.49 802.18L384.52 801.20L385.55 800.23L386.58 799.26L387.61 798.30L388.64 797.35L389.67 796.40L390.70 795.45L391.73 794.52L392.76 793.59L393.78 792.66L394.81 791.74L395.84 790.83L396.87 789.93L397.90 789.02L398.93 788.13L399.96 787.24L400.99 786.36L402.02 785.48L403.05 784.61L404.07 783.75L405.10 782.89L406.13 782.04L407.16 781.19L408.19 780.35L409.22 779.52L410.25 778.69L411.28 777.87L412.31 777.06L413.34 776.25L414.37 775.44L415.39 774.64L416.42 773.85L417.45 773.07L418.48 772.29L419.51 771.52L420.54 770.75L421.57 769.99L422.60 769.23L423.63 768.48L424.66 767.74L425.68 767.00L426.71 766.27L427.74 765.55L428.77 764.83L429.80 764.12L430.83 763.41L431.86 762.71L432.89 762.02L433.92 761.33L434.95 760.65L435.98 759.97L437.00 759.30L438.03 758.64L439.06 757.98L440.09 757.33L441.12 756.68L442.15 756.04L443.18 755.41L444.21 754.78L445.24 754.16L446.27 753.54L447.30 752.93L448.32 752.33L449.35 751.73L450.38 751.14L451.41 750.56L452.44 749.98L453.47 749.41L454.50 748.84L455.53 748.28L456.56 747.72L457.59 747.17L458.61 746.63L459.64 746.09L460.67 745.56L461.70 745.04L462.73 744.52L463.76 744.01L464.79 743.50L465.82 743.00L466.85 742.51L467.88 742.02L468.91 741.54L469.93 741.06L470.96 740.59L471.99 740.13L473.02 739.67L474.05 739.22L475.08 738.77L476.11 738.33L477.14 737.90L478.17 737.47L479.20 737.05L480.22 736.64L481.25 736.23L482.28 735.82L483.31 735.43L484.34 735.03L485.37 734.65L486.40 734.27L487.43 733.90L488.46 733.53L489.49 733.17L490.52 732.82L491.54 732.47L492.57 732.12L493.60 731.79L494.63 731.46L495.66 731.13L496.69 730.81L497.72 730.50L498.75 730.20L499.78 729.90L500.81 729.60L501.83 729.31L502.86 729.03L503.89 728.76L504.92 728.49L505.95 728.22L506.98 727.96L508.01 727.71L509.04 727.47L510.07 727.23L511.10 726.99L512.13 726.77L513.15 726.55L514.18 726.33L515.21 726.12L516.24 725.92L517.27 725.72L518.30 725.53L519.33 725.35L520.36 725.17L521.39 724.99L522.42 724.83L523.44 724.67L524.47 724.51L525.50 724.36L526.53 724.22L527.56 724.08L528.59 723.95L529.62 723.83L530.65 723.71L531.68 723.60L532.71 723.49L533.74 723.39L534.76 723.30L535.79 723.21L536.82 723.13L537.85 723.05L538.88 722.98L539.91 722.92L540.94 722.86L541.97 722.81L543.00 722.77L544.03 722.73L545.05 722.69L546.08 722.67L547.11 722.64L548.14 722.63L549.17 722.62L550.20 722.62L551.23 722.62L552.26 722.63L553.29 722.64L554.32 722.67L555.35 722.69L556.37 722.73L557.40 722.77L558.43 722.81L559.46 722.86L560.49 722.92L561.52 722.98L562.55 723.05L563.58 723.13L564.61 723.21L565.64 723.30L566.66 723.39L567.69 723.49L568.72 723.60L569.75 723.71L570.78 723.83L571.81 723.95L572.84 724.08L573.87 724.22L574.90 724.36L575.93 724.51L576.96 724.67L577.98 724.83L579.01 724.99L580.04 725.17L581.07 725.35L582.10 725.53L583.13 725.72L584.16 725.92L585.19 726.12L586.22 726.33L587.25 726.55L588.27 726.77L589.30 726.99L590.33 727.23L591.36 727.47L592.39 727.71L593.42 727.96L594.45 728.22L595.48 728.49L596.51 728.76L597.54 729.03L598.57 729.31L599.59 729.60L600.62 729.90L601.65 730.20L602.68 730.50L603.71 730.81L604.74 731.13L605.77 731.46L606.80 731.79L607.83 732.12L608.86 732.47L609.88 732.82L610.91 733.17L611.94 733.53L612.97 733.90L614.00 734.27L615.03 734.65L616.06 735.03L617.09 735.43L618.12 735.82L619.15 736.23L620.18 736.64L621.20 737.05L622.23 737.47L623.26 737.90L624.29 738.33L625.32 738.77L626.35 739.22L627.38 739.67L628.41 740.13L629.44 740.59L630.47 741.06L631.49 741.54L632.52 742.02L633.55 742.51L634.58 743.00L635.61 743.50L636.64 744.01L637.67 744.52L638.70 745.04L639.73 745.56L640.76 746.09L641.79 746.63L642.81 747.17L643.84 747.72L644.87 748.28L645.90 748.84L646.93 749.41L647.96 749.98L648.99 750.56L650.02 751.14L651.05 751.73L652.08 752.33L653.11 752.93L654.13 753.54L655.16 754.16L656.19 754.78L657.22 755.41L658.25 756.04L659.28 756.68L660.31 757.33L661.34 757.98L662.37 758.64L663.40 759.30L664.42 759.97L665.45 760.65L666.48 761.33L667.51 762.02L668.54 762.71L669.57 763.41L670.60 764.12L671.63 764.83L672.66 765.55L673.69 766.27L674.72 767.00L675.74 767.74L676.77 768.48L677.80 769.23L678.83 769.99L679.86 770.75L680.89 771.52L681.92 772.29L682.95 773.07L683.98 773.85L685.01 774.64L686.03 775.44L687.06 776.25L688.09 777.06L689.12 777.87L690.15 778.69L691.18 779.52L692.21 780.35L693.24 781.19L694.27 782.04L695.30 782.89L696.33 783.75L697.35 784.61L698.38 785.48L699.41 786.36L700.44 787.24L701.47 788.13L702.50 789.02L703.53 789.93L704.56 790.83L705.59 791.74L706.62 792.66L707.64 793.59L708.67 794.52L709.70 795.45L710.73 796.40L711.76 797.35L712.79 798.30L713.82 799.26L714.85 800.23L715.88 801.20L716.91 802.18L717.94 803.17L718.96 804.16L719.99 805.16L721.02 806.16L722.05 807.17L723.08 808.19L724.11 809.21L725.14 810.23L726.17 811.27L727.20 812.31L728.23 813.35L729.25 814.41L730.28 815.46L731.31 816.53L732.34 817.60L733.37 818.68L734.40 819.76L735.43 820.85L736.46 821.94L737.49 823.04L738.52 824.15L739.55 825.26L740.57 826.38L741.60 827.50L742.63 828.63L743.66 829.77L744.69 830.91L745.72 832.06L746.75 833.22L747.78 834.38L748.81 835.55L749.84 836.72L750.86 837.90L751.89 839.09L752.92 840.28L753.95 841.47L754.98 842.68L756.01 843.89L757.04 845.10L758.07 846.33L759.10 847.55L760.13 848.79L761.16 850.03L762.18 851.27L763.21 852.53L764.24 853.78L765.27 855.05L766.30 856.32L767.33 857.59L768.36 858.88L769.39 860.17L770.42 861.46L771.45 862.76L772.47 864.07L773.50 865.38L774.53 866.70L775.56 868.02L776.59 869.35L777.62 870.69L778.65 872.03L779.68 873.38L780.71 874.74L781.74 876.10L782.77 877.47L783.79 878.84L784.82 880.22L785.85 881.61L786.88 883.00L787.91 884.39L788.94 885.80L789.97 887.21L791.00 888.62L792.03 890.05L793.06 891.47L794.08 892.91L795.11 894.35L796.14 895.79L797.17 897.25L798.20 898.70L799.23 900.17L800.26 901.64L801.29 903.12L802.32 904.60L803.35 906.09L804.38 907.58L805.40 909.08L806.43 910.59L807.46 912.10L808.49 913.62L809.52 915.15L810.55 916.68L811.58 918.21L812.61 919.76L813.64 921.31L814.67 922.86L815.69 924.42L816.72 925.99L817.75 927.56L818.78 929.14L819.81 930.73L820.84 932.32L821.87 933.92L822.90 935.52L823.93 937.13L824.96 938.75L825.99 940.37L827.01 942.00L828.04 943.63L829.07 945.27L830.10 946.92L831.13 948.57L832.16 950.23L833.19 951.89L834.22 953.56L835.25 955.24L836.28 956.92L837.30 958.61L838.33 960.31L839.36 962.01L840.39 963.72L841.42 965.43L842.45 967.15L843.48 968.87L844.51 970.60L845.54 972.34L846.57 974.08L847.60 975.83L848.62 977.59L849.65 979.35L850.68 981.12L851.71 982.89L852.74 984.67L853.77 986.46L854.80 988.25L855.83 990.05L856.86 991.85L857.89 993.66L858.92 995.48L859.94 997.30L860.97 999.13L862.00 1000.96L863.03 1002.80L864.06 1004.65L865.09 1006.50L866.12 1008.36L867.15 1010.22L868.18 1012.09L869.21 1013.97L870.23 1015.85L871.26 1017.74L872.29 1019.64L873.32 1021.54L874.35 1023.44L875.38 1025.36L876.41 1027.28L877.44 1029.20L878.47 1031.13L879.50 1033.07L880.53 1035.01L881.55 1036.96L882.58 1038.92L883.61 1040.88L884.64 1042.85L885.67 1044.82L886.70 1046.80L887.73 1048.79L888.76 1050.78L889.79 1052.78L890.82 1054.78L891.84 1056.79L892.87 1058.81L893.90 1060.83L894.93 1062.86L895.96 1064.89L896.99 1066.93L898.02 1068.98L899.05 1071.03L900.08 1073.09L901.11 1075.15L902.14 1077.22L903.16 1079.30L904.19 1081.38L905.22 1083.47L906.25 1085.57L907.28 1087.67L908.31 1089.78L909.34 1091.89L910.37 1094.01L911.40 1096.13L912.43 1098.27L913.45 1100.40L914.48 1102.55L915.51 1104.70L916.54 1106.85L917.57 1109.01L918.60 1111.18L919.63 1113.35L920.66 1115.53L921.69 1117.72L922.72 1119.91L923.75 1122.11L924.77 1124.31L925.80 1126.52L926.83 1128.74L927.86 1130.96L928.89 1133.19L929.92 1135.43L930.95 1137.67L931.98 1139.91L933.01 1142.17L934.04 1144.42L935.06 1146.69L936.09 1148.96L937.12 1151.24L938.15 1153.52L939.18 1155.81L940.21 1158.10L941.24 1160.40L942.27 1162.71L943.30 1165.02L944.33 1167.34L945.36 1169.67L946.38 1172.00L947.41 1174.34L948.44 1176.68L949.47 1179.03L950.50 1181.39L951.53 1183.75L952.56 1186.12L953.59 1188.49L954.62 1190.87L955.65 1193.26L956.67 1195.65L957.70 1198.05L958.73 1200.45L959.76 1202.86L960.79 1205.28L961.82 1207.70" stroke="#000" stroke-width="4.3" stroke-dasharray="4.1 4.51" stroke-dashoffset="7.34" fill="none"/>
<path d="M321.45 843.60V883.30M315.55 883.30H327.35" stroke="#00a600" stroke-width="3.0" fill="none"/>
<path d="M315.55 843.60H327.35" stroke="#00a600" stroke-width="3.0" fill="none"/>
<path d="M362.90 792.80V833.30M357.00 833.30H368.80" stroke="#00a600" stroke-width="3.0" fill="none"/>
<path d="M357.00 792.80H368.80" stroke="#00a600" stroke-width="3.0" fill="none"/>
<path d="M400.30 755.90V799.20M394.40 799.20H406.20" stroke="#00a600" stroke-width="3.0" fill="none"/>
<path d="M394.40 755.90H406.20" stroke="#00a600" stroke-width="3.0" fill="none"/>
<path d="M430.50 719.50V790.20M424.60 790.20H436.40" stroke="#00a600" stroke-width="3.0" fill="none"/>
<path d="M424.60 719.50H436.40" stroke="#00a600" stroke-width="3.0" fill="none"/>
<path d="M469.90 697.90V759.70M464.00 759.70H475.80" stroke="#00a600" stroke-width="3.0" fill="none"/>
<path d="M464.00 697.90H475.80" stroke="#00a600" stroke-width="3.0" fill="none"/>
<path d="M507.00 705.30V745.30M501.10 745.30H512.90" stroke="#00a600" stroke-width="3.0" fill="none"/>
<path d="M501.10 705.30H512.90" stroke="#00a600" stroke-width="3.0" fill="none"/>
<path d="M544.90 679.90V764.50M539.00 764.50H550.80" stroke="#00a600" stroke-width="3.0" fill="none"/>
<path d="M539.00 679.90H550.80" stroke="#00a600" stroke-width="3.0" fill="none"/>
<path d="M585.90 685.50V765.30M580.00 765.30H591.80" stroke="#00a600" stroke-width="3.0" fill="none"/>
<path d="M580.00 685.50H591.80" stroke="#00a600" stroke-width="3.0" fill="none"/>
<path d="M623.20 707.90V768.90M617.30 768.90H629.10" stroke="#00a600" stroke-width="3.0" fill="none"/>
<path d="M617.30 707.90H629.10" stroke="#00a600" stroke-width="3.0" fill="none"/>
<path d="M662.50 728.30V789.80M656.60 789.80H668.40" stroke="#00a600" stroke-width="3.0" fill="none"/>
<path d="M656.60 728.30H668.40" stroke="#00a600" stroke-width="3.0" fill="none"/>
<path d="M700.00 748.30V815.90M694.10 815.90H705.90" stroke="#00a600" stroke-width="3.0" fill="none"/>
<path d="M694.10 748.30H705.90" stroke="#00a600" stroke-width="3.0" fill="none"/>
<path d="M737.40 793.30V823.30M731.50 823.30H743.30" stroke="#00a600" stroke-width="3.0" fill="none"/>
<path d="M731.50 793.30H743.30" stroke="#00a600" stroke-width="3.0" fill="none"/>
<path d="M769.50 804.40V897.50M763.60 897.50H775.40" stroke="#00a600" stroke-width="3.0" fill="none"/>
<path d="M763.60 804.40H775.40" stroke="#00a600" stroke-width="3.0" fill="none"/>
<path d="M810.35 878.30V914.20M804.45 914.20H816.25" stroke="#00a600" stroke-width="3.0" fill="none"/>
<path d="M804.45 878.30H816.25" stroke="#00a600" stroke-width="3.0" fill="none"/>
<path d="M847.85 929.50V973.30M841.95 973.30H853.75" stroke="#00a600" stroke-width="3.0" fill="none"/>
<path d="M841.95 929.50H853.75" stroke="#00a600" stroke-width="3.0" fill="none"/>
<path d="M887.30 1003.30V1041.50M881.40 1041.50H893.20" stroke="#00a600" stroke-width="3.0" fill="none"/>
<path d="M881.40 1003.30H893.20" stroke="#00a600" stroke-width="3.0" fill="none"/>
<circle cx="321.45" cy="863.45" r="8.9" fill="#00a600"/>
<circle cx="362.90" cy="813.05" r="8.9" fill="#00a600"/>
<circle cx="400.30" cy="777.55" r="8.9" fill="#00a600"/>
<circle cx="430.50" cy="754.85" r="8.9" fill="#00a600"/>
<circle cx="469.90" cy="728.80" r="8.9" fill="#00a600"/>
<circle cx="507.00" cy="725.30" r="8.9" fill="#00a600"/>
<circle cx="544.90" cy="722.20" r="8.9" fill="#00a600"/>
<circle cx="585.90" cy="725.40" r="8.9" fill="#00a600"/>
<circle cx="623.20" cy="738.40" r="8.9" fill="#00a600"/>
<circle cx="662.50" cy="759.05" r="8.9" fill="#00a600"/>
<circle cx="700.00" cy="782.10" r="8.9" fill="#00a600"/>
<circle cx="737.40" cy="808.30" r="8.9" fill="#00a600"/>
<circle cx="769.50" cy="850.95" r="8.9" fill="#00a600"/>
<circle cx="810.35" cy="896.25" r="8.9" fill="#00a600"/>
<circle cx="847.85" cy="951.40" r="8.9" fill="#00a600"/>
<circle cx="887.30" cy="1022.40" r="8.9" fill="#00a600"/>
<path d="M310.00 912.30V948.80M304.10 948.80H315.90" stroke="#ff0000" stroke-width="3.0" fill="none"/>
<path d="M304.10 912.30H315.90" stroke="#ff0000" stroke-width="3.0" fill="none"/>
<path d="M347.30 863.90V906.50M341.40 906.50H353.20" stroke="#ff0000" stroke-width="3.0" fill="none"/>
<path d="M341.40 863.90H353.20" stroke="#ff0000" stroke-width="3.0" fill="none"/>
<path d="M388.70 803.60V839.30M382.80 839.30H394.60" stroke="#ff0000" stroke-width="3.0" fill="none"/>
<path d="M382.80 803.60H394.60" stroke="#ff0000" stroke-width="3.0" fill="none"/>
<path d="M423.85 758.50V819.30M417.95 819.30H429.75" stroke="#ff0000" stroke-width="3.0" fill="none"/>
<path d="M417.95 758.50H429.75" stroke="#ff0000" stroke-width="3.0" fill="none"/>
<path d="M465.10 730.90V759.50M459.20 759.50H471.00" stroke="#ff0000" stroke-width="3.0" fill="none"/>
<path d="M459.20 730.90H471.00" stroke="#ff0000" stroke-width="3.0" fill="none"/>
<path d="M493.40 718.40V777.50M487.50 777.50H499.30" stroke="#ff0000" stroke-width="3.0" fill="none"/>
<path d="M487.50 718.40H499.30" stroke="#ff0000" stroke-width="3.0" fill="none"/>
<path d="M530.90 700.90V743.30M525.00 743.30H536.80" stroke="#ff0000" stroke-width="3.0" fill="none"/>
<path d="M525.00 700.90H536.80" stroke="#ff0000" stroke-width="3.0" fill="none"/>
<path d="M573.90 713.50V741.30M568.00 741.30H579.80" stroke="#ff0000" stroke-width="3.0" fill="none"/>
<path d="M568.00 713.50H579.80" stroke="#ff0000" stroke-width="3.0" fill="none"/>
<path d="M607.50 710.50V749.50M601.60 749.50H613.40" stroke="#ff0000" stroke-width="3.0" fill="none"/>
<path d="M601.60 710.50H613.40" stroke="#ff0000" stroke-width="3.0" fill="none"/>
<path d="M689.80 782.80V804.60M683.90 804.60H695.70" stroke="#ff0000" stroke-width="3.0" fill="none"/>
<path d="M683.90 782.80H695.70" stroke="#ff0000" stroke-width="3.0" fill="none"/>
<path d="M721.55 802.60V857.30M715.65 857.30H727.45" stroke="#ff0000" stroke-width="3.0" fill="none"/>
<path d="M715.65 802.60H727.45" stroke="#ff0000" stroke-width="3.0" fill="none"/>
<path d="M802.35 942.90V979.40M796.45 979.40H808.25" stroke="#ff0000" stroke-width="3.0" fill="none"/>
<path d="M796.45 942.90H808.25" stroke="#ff0000" stroke-width="3.0" fill="none"/>
<path d="M839.90 1017.40V1039.90M834.00 1039.90H845.80" stroke="#ff0000" stroke-width="3.0" fill="none"/>
<path d="M834.00 1017.40H845.80" stroke="#ff0000" stroke-width="3.0" fill="none"/>
<path d="M865.90 1060.40V1092.20M860.00 1092.20H871.80" stroke="#ff0000" stroke-width="3.0" fill="none"/>
<path d="M860.00 1060.40H871.80" stroke="#ff0000" stroke-width="3.0" fill="none"/>
<path d="M298.75 937.02H321.25L310.00 917.62Z" fill="#ff0000"/>
<path d="M336.05 891.67H358.55L347.30 872.27Z" fill="#ff0000"/>
<path d="M377.45 827.92H399.95L388.70 808.52Z" fill="#ff0000"/>
<path d="M412.60 795.37H435.10L423.85 775.97Z" fill="#ff0000"/>
<path d="M453.85 751.67H476.35L465.10 732.27Z" fill="#ff0000"/>
<path d="M482.15 754.42H504.65L493.40 735.02Z" fill="#ff0000"/>
<path d="M519.65 728.57H542.15L530.90 709.17Z" fill="#ff0000"/>
<path d="M562.65 733.87H585.15L573.90 714.47Z" fill="#ff0000"/>
<path d="M596.25 736.47H618.75L607.50 717.07Z" fill="#ff0000"/>
<path d="M678.55 800.17H701.05L689.80 780.77Z" fill="#ff0000"/>
<path d="M710.30 836.42H732.80L721.55 817.02Z" fill="#ff0000"/>
<path d="M791.10 967.62H813.60L802.35 948.22Z" fill="#ff0000"/>
<path d="M828.65 1035.12H851.15L839.90 1015.72Z" fill="#ff0000"/>
<path d="M854.65 1082.77H877.15L865.90 1063.37Z" fill="#ff0000"/>
</g>
<path d="M176.00 625.6v10.2M176.00 1207.7v-10.2M363.10 625.6v10.2M363.10 1207.7v-10.2M550.20 625.6v10.2M550.20 1207.7v-10.2M737.30 625.6v10.2M737.30 1207.7v-10.2M924.40 625.6v10.2M924.40 1207.7v-10.2M100.7 1110.68h10.2M999.5 1110.68h-10.2M100.7 1013.67h10.2M999.5 1013.67h-10.2M100.7 916.65h10.2M999.5 916.65h-10.2M100.7 819.63h10.2M999.5 819.63h-10.2M100.7 722.62h10.2M999.5 722.62h-10.2" stroke="#000" stroke-width="2.7" fill="none"/>
<rect x="100.7" y="1089.1" width="191.50" height="118.60" fill="#fff" stroke="#000" stroke-width="1.3"/>
<path d="M112.50 1102.13H135.00L123.75 1121.53Z" fill="#0000ff"/>
<circle cx="123.75" cy="1145.90" r="8.9" fill="#00a600"/>
<path d="M112.50 1189.17H135.00L123.75 1169.77Z" fill="#ff0000"/>
<text transform="translate(171.90 1122.90) scale(1 1.035)" font-size="31.2">30 mT</text>
<text transform="translate(172.50 1156.70) scale(1 1.035)" font-size="31.2">76 mT</text>
<text transform="translate(173.80 1190.60) scale(1 1.035)" font-size="31.2">116 mT</text>
<rect x="100.7" y="625.6" width="898.80" height="582.10" fill="none" stroke="#000" stroke-width="3.0"/>
<text transform="translate(97.90 1220.10) scale(1 1.045)" font-size="34.3" text-anchor="end">0</text>
<text transform="translate(93.50 1123.08) scale(1 1.045)" font-size="34.3" text-anchor="end">0.2</text>
<text transform="translate(93.50 1026.07) scale(1 1.045)" font-size="34.3" text-anchor="end">0.4</text>
<text transform="translate(93.50 929.05) scale(1 1.045)" font-size="34.3" text-anchor="end">0.6</text>
<text transform="translate(93.50 832.03) scale(1 1.045)" font-size="34.3" text-anchor="end">0.8</text>
<text transform="translate(93.50 735.02) scale(1 1.045)" font-size="34.3" text-anchor="end">1</text>
<text transform="translate(93.50 638.00) scale(1 1.045)" font-size="34.3" text-anchor="end">1.2</text>
<text transform="translate(106.30 661.10)" font-size="38" font-weight="bold" style="stroke-width:0.3px">(b)</text>
<text transform="translate(732.80 680.50) scale(1 1.04)" font-size="37.7">P</text>
<text transform="translate(758.00 687.80)" font-size="25.5">rf</text>
<text transform="translate(794.80 680.10) scale(1 0.8)" font-size="37.7">=</text>
<text transform="translate(827.30 680.50) scale(1 1.04)" font-size="37.7">27 kW</text>
<text transform="translate(28.40 918.10) rotate(-90)" font-size="37.6" text-anchor="middle">norm. peak density</text>
<text transform="translate(174.50 1240.40) scale(1 1.045)" font-size="34.3" text-anchor="middle">-20</text>
<text transform="translate(361.60 1240.40) scale(1 1.045)" font-size="34.3" text-anchor="middle">-10</text>
<text transform="translate(550.20 1240.40) scale(1 1.045)" font-size="34.3" text-anchor="middle">0</text>
<text transform="translate(737.30 1240.40) scale(1 1.045)" font-size="34.3" text-anchor="middle">10</text>
<text transform="translate(924.40 1240.40) scale(1 1.045)" font-size="34.3" text-anchor="middle">20</text>
<text transform="translate(550.20 1291.20)" font-size="37.9" text-anchor="middle">height (mm)</text>
</svg>
</body></html>
